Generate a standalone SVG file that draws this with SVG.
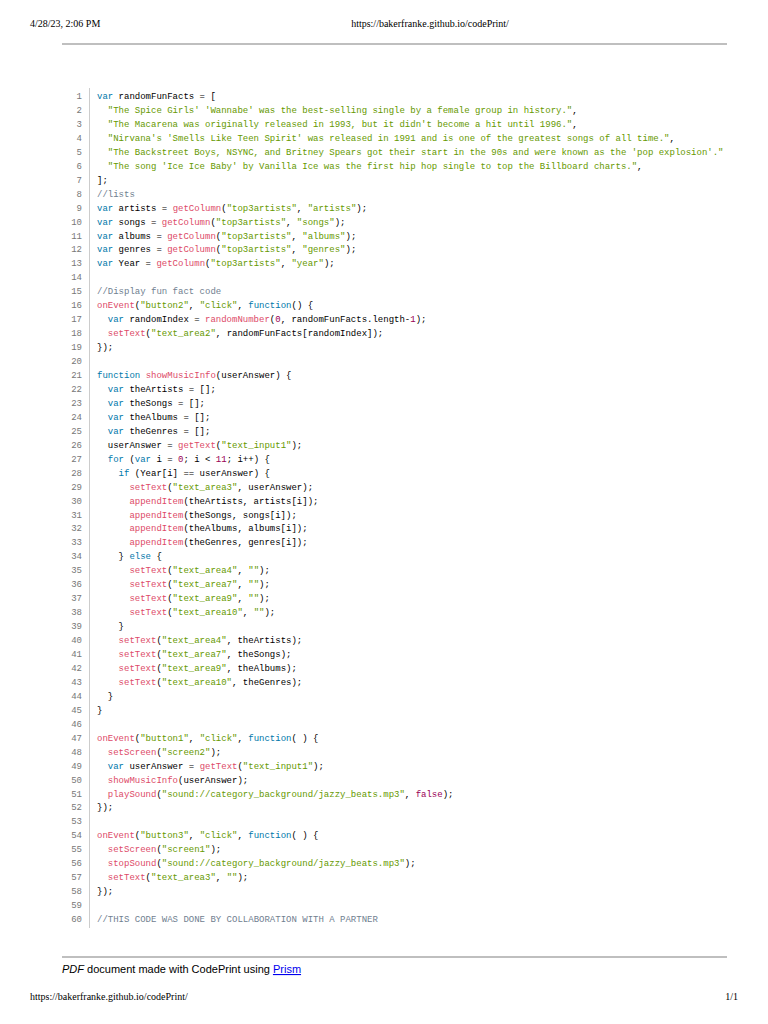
<svg xmlns="http://www.w3.org/2000/svg" width="768" height="1024" viewBox="0 0 768 1024">
<style>
.h{font-family:"Liberation Serif",serif;font-size:10px;fill:#000}
.c{font-family:"Liberation Mono",monospace;font-size:9px;fill:#000}
.ln{font-family:"Liberation Mono",monospace;font-size:9px;fill:#777;text-anchor:end}
.k{fill:#0077aa}.f{fill:#dd4a68}.s{fill:#669900}.n{fill:#990055}.cm{fill:#708090}
.ft{font-family:"Liberation Sans",sans-serif;font-size:11px;fill:#000}
</style>
<rect width="768" height="1024" fill="#fff"/>
<text class="h" x="30" y="27">4/28/23, 2:06 PM</text>
<text class="h" x="430" y="27" text-anchor="middle">https://bakerfranke.github.io/codePrint/</text>
<line x1="62" y1="44" x2="727" y2="44" stroke="#aaa" stroke-width="1.5"/>
<line x1="89.5" y1="88" x2="89.5" y2="928" stroke="#ccc" stroke-width="1"/>
<g class="ln">
<text x="82" y="99">1</text><text x="82" y="112.95">2</text><text x="82" y="126.9">3</text><text x="82" y="140.85">4</text><text x="82" y="154.8">5</text><text x="82" y="168.75">6</text><text x="82" y="182.7">7</text><text x="82" y="196.65">8</text><text x="82" y="210.6">9</text><text x="82" y="224.55">10</text><text x="82" y="238.5">11</text><text x="82" y="252.45">12</text><text x="82" y="266.4">13</text><text x="82" y="280.35">14</text><text x="82" y="294.3">15</text><text x="82" y="308.25">16</text><text x="82" y="322.2">17</text><text x="82" y="336.15">18</text><text x="82" y="350.1">19</text><text x="82" y="364.05">20</text><text x="82" y="378">21</text><text x="82" y="391.95">22</text><text x="82" y="405.9">23</text><text x="82" y="419.85">24</text><text x="82" y="433.8">25</text><text x="82" y="447.75">26</text><text x="82" y="461.7">27</text><text x="82" y="475.65">28</text><text x="82" y="489.6">29</text><text x="82" y="503.55">30</text><text x="82" y="517.5">31</text><text x="82" y="531.45">32</text><text x="82" y="545.4">33</text><text x="82" y="559.35">34</text><text x="82" y="573.3">35</text><text x="82" y="587.25">36</text><text x="82" y="601.2">37</text><text x="82" y="615.15">38</text><text x="82" y="629.1">39</text><text x="82" y="643.05">40</text><text x="82" y="657">41</text><text x="82" y="670.95">42</text><text x="82" y="684.9">43</text><text x="82" y="698.85">44</text><text x="82" y="712.8">45</text><text x="82" y="726.75">46</text><text x="82" y="740.7">47</text><text x="82" y="754.65">48</text><text x="82" y="768.6">49</text><text x="82" y="782.55">50</text><text x="82" y="796.5">51</text><text x="82" y="810.45">52</text><text x="82" y="824.4">53</text><text x="82" y="838.35">54</text><text x="82" y="852.3">55</text><text x="82" y="866.25">56</text><text x="82" y="880.2">57</text><text x="82" y="894.15">58</text><text x="82" y="908.1">59</text><text x="82" y="922.05">60</text>
</g>
<g class="c">
<text x="97" y="99"><tspan class="k">var</tspan> randomFunFacts = [</text>
<text x="107.8" y="112.95"><tspan class="s">"The Spice Girls' 'Wannabe' was the best-selling single by a female group in history."</tspan>,</text>
<text x="107.8" y="126.9"><tspan class="s">"The Macarena was originally released in 1993, but it didn't become a hit until 1996."</tspan>,</text>
<text x="107.8" y="140.85"><tspan class="s">"Nirvana's 'Smells Like Teen Spirit' was released in 1991 and is one of the greatest songs of all time."</tspan>,</text>
<text x="107.8" y="154.8"><tspan class="s">"The Backstreet Boys, NSYNC, and Britney Spears got their start in the 90s and were known as the 'pop explosion'."</tspan></text>
<text x="107.8" y="168.75"><tspan class="s">"The song 'Ice Ice Baby' by Vanilla Ice was the first hip hop single to top the Billboard charts."</tspan>,</text>
<text x="97" y="182.7">];</text>
<text x="97" y="196.65"><tspan class="cm">//lists</tspan></text>
<text x="97" y="210.6"><tspan class="k">var</tspan> artists = <tspan class="f">getColumn</tspan>(<tspan class="s">"top3artists"</tspan>, <tspan class="s">"artists"</tspan>);</text>
<text x="97" y="224.55"><tspan class="k">var</tspan> songs = <tspan class="f">getColumn</tspan>(<tspan class="s">"top3artists"</tspan>, <tspan class="s">"songs"</tspan>);</text>
<text x="97" y="238.5"><tspan class="k">var</tspan> albums = <tspan class="f">getColumn</tspan>(<tspan class="s">"top3artists"</tspan>, <tspan class="s">"albums"</tspan>);</text>
<text x="97" y="252.45"><tspan class="k">var</tspan> genres = <tspan class="f">getColumn</tspan>(<tspan class="s">"top3artists"</tspan>, <tspan class="s">"genres"</tspan>);</text>
<text x="97" y="266.4"><tspan class="k">var</tspan> Year = <tspan class="f">getColumn</tspan>(<tspan class="s">"top3artists"</tspan>, <tspan class="s">"year"</tspan>);</text>
<text x="97" y="294.3"><tspan class="cm">//Display fun fact code</tspan></text>
<text x="97" y="308.25"><tspan class="f">onEvent</tspan>(<tspan class="s">"button2"</tspan>, <tspan class="s">"click"</tspan>, <tspan class="k">function</tspan>() {</text>
<text x="107.8" y="322.2"><tspan class="k">var</tspan> randomIndex = <tspan class="f">randomNumber</tspan>(<tspan class="n">0</tspan>, randomFunFacts.length-<tspan class="n">1</tspan>);</text>
<text x="107.8" y="336.15"><tspan class="f">setText</tspan>(<tspan class="s">"text_area2"</tspan>, randomFunFacts[randomIndex]);</text>
<text x="97" y="350.1">});</text>
<text x="97" y="378"><tspan class="k">function</tspan> <tspan class="f">showMusicInfo</tspan>(userAnswer) {</text>
<text x="107.8" y="391.95"><tspan class="k">var</tspan> theArtists = [];</text>
<text x="107.8" y="405.9"><tspan class="k">var</tspan> theSongs = [];</text>
<text x="107.8" y="419.85"><tspan class="k">var</tspan> theAlbums = [];</text>
<text x="107.8" y="433.8"><tspan class="k">var</tspan> theGenres = [];</text>
<text x="107.8" y="447.75">userAnswer = <tspan class="f">getText</tspan>(<tspan class="s">"text_input1"</tspan>);</text>
<text x="107.8" y="461.7"><tspan class="k">for</tspan> (<tspan class="k">var</tspan> i = <tspan class="n">0</tspan>; i &lt; <tspan class="n">11</tspan>; i++) {</text>
<text x="118.6" y="475.65"><tspan class="k">if</tspan> (Year[i] == userAnswer) {</text>
<text x="129.4" y="489.6"><tspan class="f">setText</tspan>(<tspan class="s">"text_area3"</tspan>, userAnswer);</text>
<text x="129.4" y="503.55"><tspan class="f">appendItem</tspan>(theArtists, artists[i]);</text>
<text x="129.4" y="517.5"><tspan class="f">appendItem</tspan>(theSongs, songs[i]);</text>
<text x="129.4" y="531.45"><tspan class="f">appendItem</tspan>(theAlbums, albums[i]);</text>
<text x="129.4" y="545.4"><tspan class="f">appendItem</tspan>(theGenres, genres[i]);</text>
<text x="118.6" y="559.35">} <tspan class="k">else</tspan> {</text>
<text x="129.4" y="573.3"><tspan class="f">setText</tspan>(<tspan class="s">"text_area4"</tspan>, <tspan class="s">""</tspan>);</text>
<text x="129.4" y="587.25"><tspan class="f">setText</tspan>(<tspan class="s">"text_area7"</tspan>, <tspan class="s">""</tspan>);</text>
<text x="129.4" y="601.2"><tspan class="f">setText</tspan>(<tspan class="s">"text_area9"</tspan>, <tspan class="s">""</tspan>);</text>
<text x="129.4" y="615.15"><tspan class="f">setText</tspan>(<tspan class="s">"text_area10"</tspan>, <tspan class="s">""</tspan>);</text>
<text x="118.6" y="629.1">}</text>
<text x="118.6" y="643.05"><tspan class="f">setText</tspan>(<tspan class="s">"text_area4"</tspan>, theArtists);</text>
<text x="118.6" y="657"><tspan class="f">setText</tspan>(<tspan class="s">"text_area7"</tspan>, theSongs);</text>
<text x="118.6" y="670.95"><tspan class="f">setText</tspan>(<tspan class="s">"text_area9"</tspan>, theAlbums);</text>
<text x="118.6" y="684.9"><tspan class="f">setText</tspan>(<tspan class="s">"text_area10"</tspan>, theGenres);</text>
<text x="107.8" y="698.85">}</text>
<text x="97" y="712.8">}</text>
<text x="97" y="740.7"><tspan class="f">onEvent</tspan>(<tspan class="s">"button1"</tspan>, <tspan class="s">"click"</tspan>, <tspan class="k">function</tspan>( ) {</text>
<text x="107.8" y="754.65"><tspan class="f">setScreen</tspan>(<tspan class="s">"screen2"</tspan>);</text>
<text x="107.8" y="768.6"><tspan class="k">var</tspan> userAnswer = <tspan class="f">getText</tspan>(<tspan class="s">"text_input1"</tspan>);</text>
<text x="107.8" y="782.55"><tspan class="f">showMusicInfo</tspan>(userAnswer);</text>
<text x="107.8" y="796.5"><tspan class="f">playSound</tspan>(<tspan class="s">"sound://category_background/jazzy_beats.mp3"</tspan>, <tspan class="n">false</tspan>);</text>
<text x="97" y="810.45">});</text>
<text x="97" y="838.35"><tspan class="f">onEvent</tspan>(<tspan class="s">"button3"</tspan>, <tspan class="s">"click"</tspan>, <tspan class="k">function</tspan>( ) {</text>
<text x="107.8" y="852.3"><tspan class="f">setScreen</tspan>(<tspan class="s">"screen1"</tspan>);</text>
<text x="107.8" y="866.25"><tspan class="f">stopSound</tspan>(<tspan class="s">"sound://category_background/jazzy_beats.mp3"</tspan>);</text>
<text x="107.8" y="880.2"><tspan class="f">setText</tspan>(<tspan class="s">"text_area3"</tspan>, <tspan class="s">""</tspan>);</text>
<text x="97" y="894.15">});</text>
<text x="97" y="922.05"><tspan class="cm">//THIS CODE WAS DONE BY COLLABORATION WITH A PARTNER</tspan></text>
</g>
<line x1="62" y1="957" x2="727" y2="957" stroke="#aaa" stroke-width="1.5"/>
<text class="ft" x="62" y="973"><tspan font-style="italic">PDF</tspan> document made with CodePrint using <tspan fill="#0000ee" text-decoration="underline">Prism</tspan></text>
<text class="h" x="30" y="1000">https://bakerfranke.github.io/codePrint/</text>
<text class="h" x="738" y="1000" text-anchor="end">1/1</text>
</svg>
